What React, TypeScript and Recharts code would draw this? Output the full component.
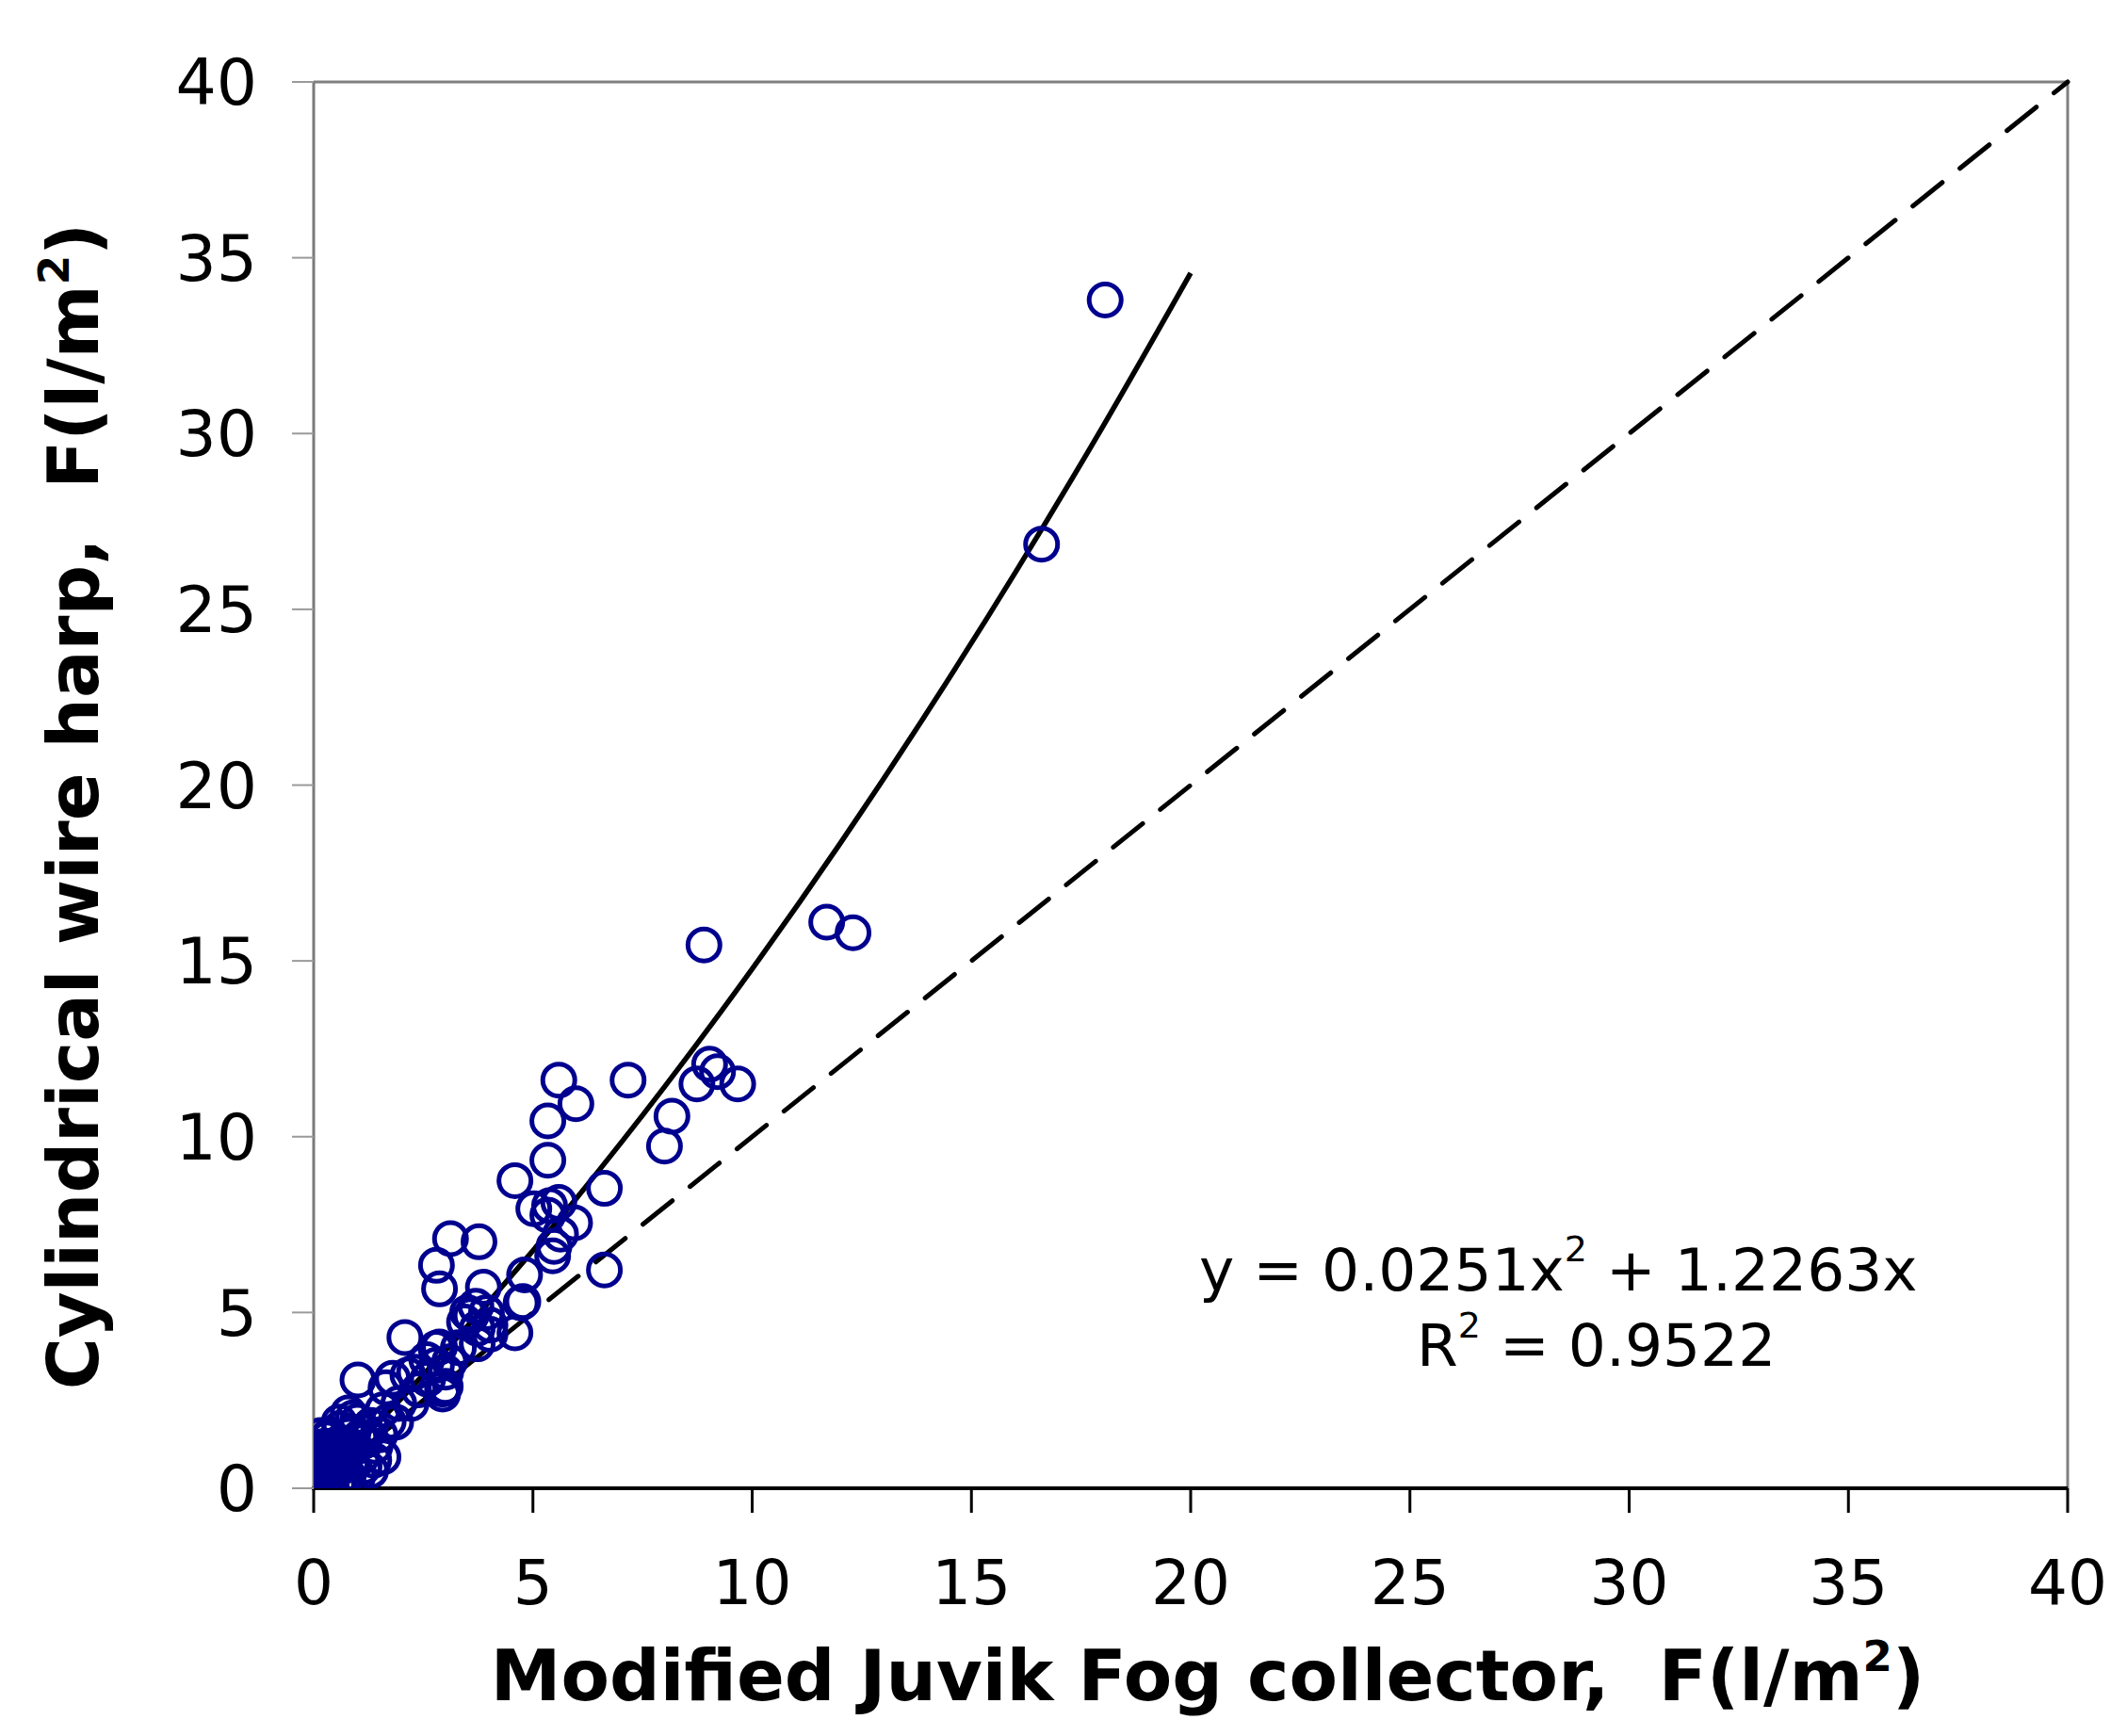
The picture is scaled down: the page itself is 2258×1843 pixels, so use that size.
import React from 'react';
import { ComposedChart, Scatter, Line, XAxis, YAxis, ReferenceLine } from 'recharts';

// Observed pairs: Modified Juvik fog collector (x) vs cylindrical wire harp (y), F (l/m2)
const harpX = [
  18.05, 16.6, 8.9, 11.7, 12.3,
  5.59, 5.98, 5.34, 7.17, 5.34, 4.59, 3.12, 3.77, 2.8, 2.87,
  8.17, 8.0, 9.03, 9.21, 8.74, 9.67, 6.63, 6.63,
  5.02, 5.38, 5.59, 5.34, 5.95, 5.63, 5.48, 5.45, 4.81, 4.77, 4.59,
  3.87, 3.7, 3.59, 3.44, 3.94, 4.02, 3.73, 2.08,
  4.73, 1.01, 2.87, 3.51, 3.73, 4.02, 1.8, 2.15, 2.58, 3.01, 2.94, 2.22,
  1.65, 1.58, 1.51, 1.58, 1.15, 0.79, 0.58, 0.37, 0.15, 0.0, 0.51, 0.94,
  1.3, 1.87, 1.94, 0.15, 0.44, 0.79, 0.29, 0.01, 0.65, 1.15, 1.37, 1.01,
  2.94, 2.79, 3.0,
  0.1, 0.2, 0.3, 0.4, 0.05, 0.25, 0.5, 0.6, 0.35, 0.1, 0.7, 0.45, 0.2, 0.55,
  0.85, 0.3, 0.6, 0.8, 1.0, 0.9, 1.2, 1.4, 1.7, 2.4, 2.6, 2.8, 3.1, 3.3, 2.3, 1.1, 1.3,
  0.05, 0.12, 0.18, 0.22, 0.28, 0.33, 0.08, 0.15, 0.38, 0.42, 0.48, 0.02, 0.26, 0.34,
  0.12, 0.2, 0.06, 0.3, 0.4, 0.5, 0.62, 0.7, 0.16, 0.24, 0.55, 0.66, 0.75, 0.9, 1.05,
];
const harpY = [
  33.8, 26.85, 15.45, 16.1, 15.8,
  11.61, 10.94, 10.45, 11.61, 9.33, 8.75, 7.1, 7.01, 6.34, 5.67,
  10.58, 9.73, 12.06, 11.85, 11.5, 11.5, 8.53, 6.21,
  7.95, 8.04, 8.13, 7.77, 7.55, 7.23, 6.88, 6.61, 6.07, 5.31, 4.42,
  5.72, 5.18, 4.91, 4.73, 5.0, 4.64, 4.55, 4.29,
  5.27, 3.08, 4.02, 5.0, 4.11, 4.38, 3.13, 3.22, 3.66, 3.3, 2.68, 2.41,
  2.86, 2.23, 1.52, 0.89, 0.62, 2.14, 1.88, 1.52, 1.16, 0.62, 0.98, 1.16,
  1.79, 1.88, 2.41, 0.09, 0.36, 0.36, 0.8, 0.27, 0.62, 1.34, 0.8, 0.36,
  2.82, 3.98, 2.9,
  0.4, 0.2, 0.5, 0.1, 0.7, 1.0, 0.5, 1.3, 0.25, 1.0, 0.9, 1.2, 0.05, 0.15,
  0.7, 1.4, 1.7, 1.5, 1.9, 2.0, 1.6, 1.2, 1.9, 2.8, 3.1, 3.5, 3.6, 4.0, 3.3, 0.9, 0.5,
  0.15, 0.3, 0.08, 0.6, 0.35, 0.12, 0.9, 1.1, 0.6, 0.3, 0.8, 0.45, 1.2, 0.02,
  0.55, 0.75, 0.25, 0.95, 0.7, 1.1, 0.3, 0.2, 1.5, 0.45, 0.05, 1.0, 1.25, 1.6, 1.45,
];

// Polynomial trendline: y = 0.0251x^2 + 1.2263x
const trendX = [0, 2, 4, 6, 8, 10, 12, 14, 16, 18, 20];
const trendY = [0, 2.553, 5.307, 8.261, 11.417, 14.773, 18.33, 22.088, 26.046, 30.206, 34.566];

// 1:1 reference line
const oneToOneX = [0, 40];
const oneToOneY = [0, 40];

const axisTicks = [0, 5, 10, 15, 20, 25, 30, 35, 40];
const axisDomain = [0, 40];

const xTitleMain = 'Modified Juvik Fog collector,  F(l/m';
const yTitleMain = 'Cylindrical wire harp,  F(l/m';
const eqLine1a = 'y = 0.0251x';
const eqLine1b = ' + 1.2263x';
const eqLine2a = 'R';
const eqLine2b = ' = 0.9522';

const points = harpX.map((x, i) => ({ x, y: harpY[i] }));
const trend = trendX.map((x, i) => ({ x, y: trendY[i] }));

const FONT = "'DejaVu Sans', Verdana, sans-serif";
const BLUE = '#00008f';

const Ring = (props: any) => {
  const { cx, cy } = props;
  if (cx == null || cy == null) return <g />;
  return <circle cx={cx} cy={cy} r={17} fill="none" stroke={BLUE} strokeWidth={5} />;
};

const pre = { whiteSpace: 'pre' } as React.CSSProperties;

const XTitle = () => (
  <g>
    <text x={1282} y={1805} textAnchor="middle" fontFamily={FONT} fontWeight="bold" fontSize={75} fill="#000" style={pre}>
      {xTitleMain}
      <tspan fontSize={45} dy={-31}>2</tspan>
      <tspan dy={31}>)</tspan>
    </text>
    <text x={1273} y={1370} textAnchor="start" fontFamily={FONT} fontSize={63} fill="#000" style={pre}>
      {eqLine1a}
      <tspan fontSize={38} dy={-31}>2</tspan>
      <tspan dy={31}>{eqLine1b}</tspan>
    </text>
    <text x={1504} y={1450} textAnchor="start" fontFamily={FONT} fontSize={63} fill="#000" style={pre}>
      {eqLine2a}
      <tspan fontSize={38} dy={-30}>2</tspan>
      <tspan dy={30}>{eqLine2b}</tspan>
    </text>
  </g>
);

const YTitle = () => (
  <text
    x={104}
    y={856}
    transform="rotate(-90, 104, 856)"
    textAnchor="middle"
    fontFamily={FONT}
    fontWeight="bold"
    fontSize={75}
    fill="#000"
    style={pre}
  >
    {yTitleMain}
    <tspan fontSize={45} dy={-31}>2</tspan>
    <tspan dy={31}>)</tspan>
  </text>
);

export default function App() {
  return (
    <div style={{ position: 'absolute', left: 0, top: 0, width: 2258, height: 1843, background: '#fff' }}>
      <ComposedChart
        width={2258}
        height={1843}
        margin={{ top: 87, right: 63, left: 0, bottom: 0 }}
      >
        <XAxis
          type="number"
          dataKey="x"
          domain={axisDomain}
          ticks={axisTicks}
          allowDataOverflow
          height={263}
          axisLine={{ stroke: '#000', strokeWidth: 4 }}
          tickLine={{ stroke: '#000', strokeWidth: 3 }}
          tickSize={26}
          tickMargin={50}
          tick={{ fill: '#000', fontSize: 66, fontFamily: FONT }}
          label={{ content: () => <XTitle /> }}
        />
        <YAxis
          type="number"
          dataKey="y"
          domain={axisDomain}
          ticks={axisTicks}
          allowDataOverflow
          width={333}
          axisLine={{ stroke: '#7a7a7a', strokeWidth: 3 }}
          tickLine={{ stroke: '#9a9a9a', strokeWidth: 2 }}
          tickSize={23}
          tickMargin={37}
          tick={{ fill: '#000', fontSize: 68, fontFamily: FONT }}
          label={{ content: () => <YTitle /> }}
        />
        <ReferenceLine y={40} stroke="#808080" strokeWidth={3} />
        <ReferenceLine x={40} stroke="#808080" strokeWidth={3} />
        <Scatter data={points} dataKey="y" shape={<Ring />} isAnimationActive={false} />
        <ReferenceLine
          segment={[
            { x: oneToOneX[0], y: oneToOneY[0] },
            { x: oneToOneX[1], y: oneToOneY[1] },
          ]}
          stroke="#000"
          strokeWidth={5}
          strokeDasharray="40 24"
          strokeLinecap="round"
        />
        <Line
          data={trend}
          dataKey="y"
          type="monotone"
          stroke="#000"
          strokeWidth={5.5}
          dot={false}
          activeDot={false}
          isAnimationActive={false}
        />
      </ComposedChart>
    </div>
  );
}
